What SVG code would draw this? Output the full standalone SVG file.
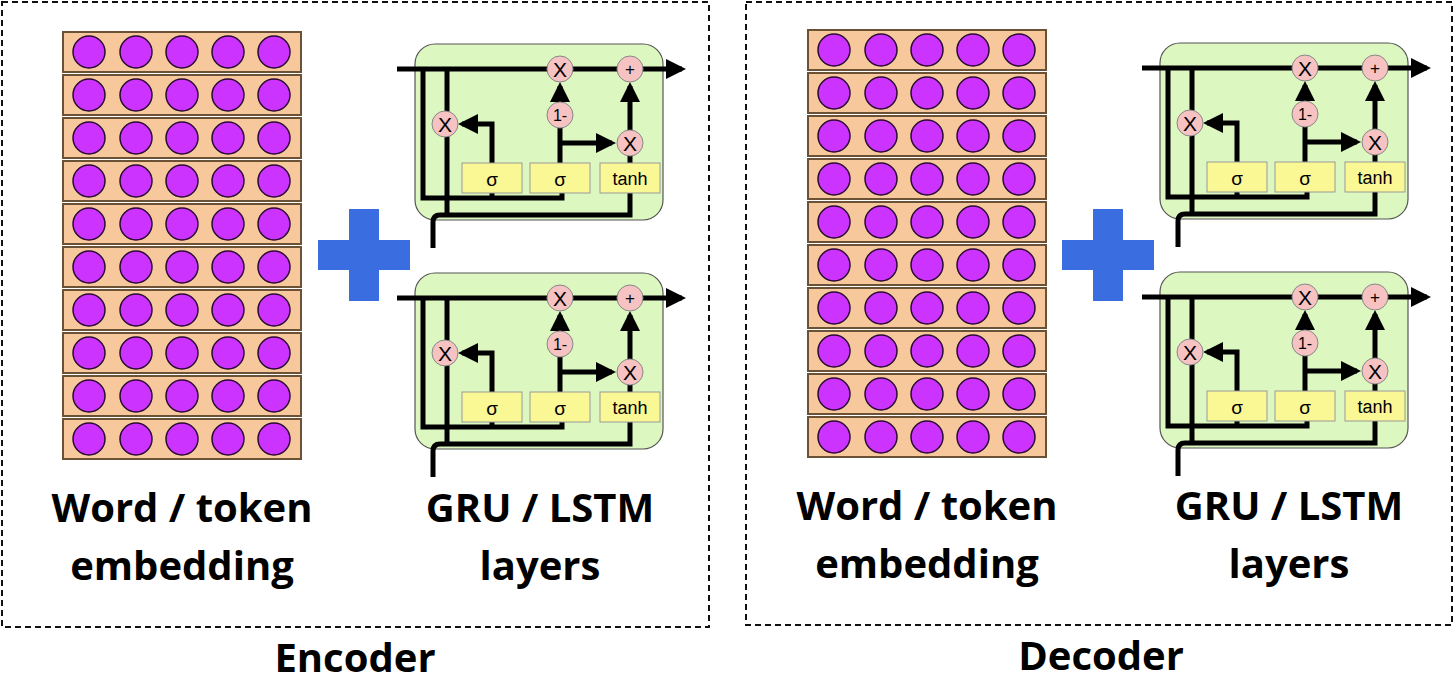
<svg xmlns="http://www.w3.org/2000/svg" xmlns:xlink="http://www.w3.org/1999/xlink" width="1456" height="694" viewBox="0 0 1456 694">
<style>
.frame{fill:none;stroke:#111;stroke-width:2;stroke-dasharray:6 4}
.row{fill:#f6c89c;stroke:#6b5237;stroke-width:2}
.dot{fill:#cc33ff;stroke:#2a0a33;stroke-width:1.5}
.cell{fill:#ddf7c0;stroke:#555;stroke-width:1.2}
.ln{fill:none;stroke:#000;stroke-width:5}
.op{fill:#f7c2c2;stroke:#888;stroke-width:1}
.gate{fill:#faf795;stroke:#999;stroke-width:1}
.t{font-family:"Liberation Sans",Arial,sans-serif;fill:#000;text-anchor:middle}
.big{font-family:"Open Sans","Liberation Sans",sans-serif;font-weight:bold;font-size:40px;text-anchor:middle;fill:#000}
.plus{fill:#3a6ee0}
</style>
<defs>
<marker id="ah" viewBox="0 0 10 10" refX="8" refY="5" markerWidth="4" markerHeight="4" orient="auto" markerUnits="strokeWidth"><path d="M0,0 L10,5 L0,10 Z" fill="#000"/></marker>
<g id="gru">
<rect class="cell" x="415" y="44" width="248" height="176" rx="20"/>
<path class="ln" d="M397,69 H682" marker-end="url(#ah)"/>
<path class="ln" d="M423,69 V198 H562 V193"/>
<path class="ln" d="M492,198 V193"/>
<path class="ln" d="M447,69 V215"/>
<path class="ln" d="M433,248 V222 Q433,215 440,215 H630 V193"/>
<path class="ln" d="M492,163 V124 H462" marker-end="url(#ah)"/>
<path class="ln" d="M560,163 V128"/>
<path class="ln" d="M560,102 V86" marker-end="url(#ah)"/>
<path class="ln" d="M560,143 H612" marker-end="url(#ah)"/>
<path class="ln" d="M630,163 V156"/>
<path class="ln" d="M630,130 V86" marker-end="url(#ah)"/>
<rect class="gate" x="462" y="163" width="60" height="30"/>
<rect class="gate" x="530" y="163" width="60" height="30"/>
<rect class="gate" x="600" y="163" width="60" height="30"/>
<text class="t" x="492" y="186" font-size="19">σ</text>
<text class="t" x="560" y="186" font-size="19">σ</text>
<text class="t" x="630" y="185" font-size="18">tanh</text>
<circle class="op" cx="560" cy="69" r="13"/><text class="t" x="560" y="77" font-size="21">X</text>
<circle class="op" cx="630" cy="69" r="13"/><text class="t" x="630" y="75" font-size="17">+</text>
<circle class="op" cx="445" cy="124" r="13"/><text class="t" x="445" y="132" font-size="21">X</text>
<circle class="op" cx="560" cy="115" r="13"/><text class="t" x="560" y="121" font-size="16">1-</text>
<circle class="op" cx="630" cy="143" r="13"/><text class="t" x="630" y="151" font-size="21">X</text>
</g>
<g id="row">
<rect class="row" x="63" y="0" width="238" height="40"/>
<circle class="dot" cx="89" cy="20" r="16"/><circle class="dot" cx="136" cy="20" r="16"/><circle class="dot" cx="182" cy="20" r="16"/><circle class="dot" cx="228" cy="20" r="16"/><circle class="dot" cx="274" cy="20" r="16"/>
</g>
<g id="emb">
<use xlink:href="#row" y="32"/><use xlink:href="#row" y="75"/><use xlink:href="#row" y="118"/><use xlink:href="#row" y="161"/><use xlink:href="#row" y="204"/><use xlink:href="#row" y="247"/><use xlink:href="#row" y="290"/><use xlink:href="#row" y="333"/><use xlink:href="#row" y="376"/><use xlink:href="#row" y="419"/>
</g>
<path id="plusShape" class="plus" d="M349,209 h30 v31 h31 v30 h-31 v31 h-30 v-31 h-31 v-30 h31 Z"/>
</defs>
<g id="encoder">
<rect class="frame" x="2" y="2" width="707" height="625"/>
<g id="enc-embedding"><use xlink:href="#emb"/></g>
<g id="enc-plus"><use xlink:href="#plusShape"/></g>
<g id="enc-gru1"><use xlink:href="#gru"/></g>
<g id="enc-gru2"><use xlink:href="#gru" y="229"/></g>
<text class="big" x="182" y="522">Word / token</text>
<text class="big" x="182" y="580">embedding</text>
<text class="big" x="540" y="522">GRU / LSTM</text>
<text class="big" x="540" y="580">layers</text>
<text class="big" x="355" y="672">Encoder</text>
</g>
<g id="decoder">
<rect class="frame" x="746" y="2" width="706" height="623"/>
<g id="dec-embedding"><use xlink:href="#emb" x="745" y="-2"/></g>
<g id="dec-plus"><use xlink:href="#plusShape" x="744"/></g>
<g id="dec-gru1"><use xlink:href="#gru" x="745" y="-1"/></g>
<g id="dec-gru2"><use xlink:href="#gru" x="745" y="228"/></g>
<text class="big" x="927" y="520">Word / token</text>
<text class="big" x="927" y="578">embedding</text>
<text class="big" x="1289" y="520">GRU / LSTM</text>
<text class="big" x="1289" y="578">layers</text>
<text class="big" x="1101" y="670">Decoder</text>
</g>
<g id="connectors"></g>
</svg>
